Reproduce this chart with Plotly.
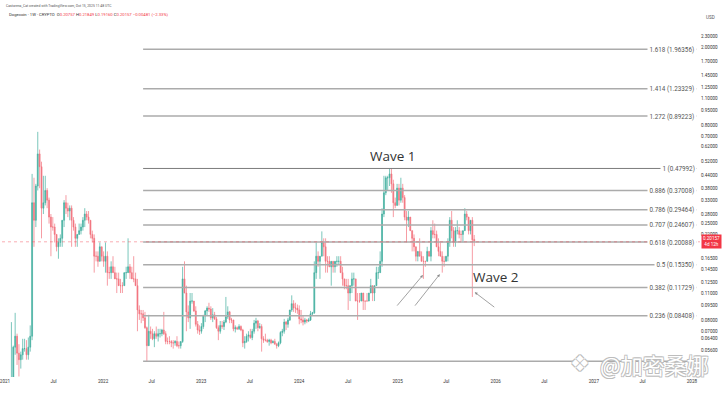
import math
import pandas as pd
import plotly.graph_objects as go

# ---------------- data (weekly DOGE candles) ----------------
opens = [
    .0047,
    # 2021
    .0098, .0094, .0091, .0085, .0347, .058, .066, .054, .050, .053, .057, .057, .053, .058, .066, .32,
    .26, .39, .57, .49, .30, .32, .37, .33, .27, .24, .24, .22, .19, .20, .21, .26, .32, .30, .29, .30,
    .26, .24, .21, .22, .23, .24, .26, .28, .27, .26, .22, .21, .17, .17, .16, .19,
    # 2022
    .17, .16, .17, .14, .14, .15, .14, .13, .13, .12, .12, .12, .14, .14, .15, .14, .13, .13, .12, .09,
    .086, .086, .082, .073, .059, .070, .068, .064, .068, .066, .068, .068, .071, .068, .062, .062, .062,
    .061, .061, .062, .059, .059, .062, .13, .11, .088, .082, .10, .10, .089, .076, .071,
    # 2023
    .070, .074, .084, .089, .092, .091, .082, .085, .081, .073, .070, .075, .074, .078, .083, .088, .080,
    .080, .072, .073, .072, .074, .071, .061, .062, .066, .067, .065, .070, .077, .079, .073, .074, .064,
    .063, .063, .062, .063, .061, .062, .060, .059, .061, .069, .070, .078, .076, .080, .090, .097, .092, .092,
    # 2024
    .090, .081, .080, .078, .080, .079, .080, .086, .087, .14, .17, .16, .17, .20, .19, .16, .16, .15, .16,
    .15, .16, .16, .16, .14, .13, .12, .12, .11, .12, .13, .13,
    .10, .10, .10, .11, .10, .10, .10, .11, .12, .11, .12, .14, .14, .16, .28, .36, .43, .43, .45, .40, .32, .31,
    # 2025
    .38, .33, .38, .34, .27, .26, .27, .23, .21, .19, .17, .18, .17, .16, .16, .16, .18, .17, .23, .22, .22,
    .19, .18, .17, .16, .16, .17, .20, .26, .23, .20, .23, .23, .22, .22, .23, .28, .27, .23, .26, .20757,
]
highs = [
    .0107,
    .0137, .0103, .0096, .078, .059, .087, .068, .060, .055, .064, .064, .063, .065, .075, .45, .43, .40,
    .74, .60, .52, .44, .44, .38, .34, .28, .27, .25, .22, .21, .22, .26, .33, .35, .32, .31, .31, .27, .25,
    .22, .25, .25, .27, .30, .29, .29, .26, .23, .22, .18, .18, .20, .19,
    .18, .20, .18, .15, .16, .17, .15, .14, .14, .13, .125, .14, .15, .21, .155, .15, .17, .14, .13, .095,
    .09, .09, .088, .074, .085, .074, .072, .070, .074, .072, .072, .072, .088, .070, .065, .066, .063, .063,
    .063, .066, .062, .062, .15, .16, .12, .095, .11, .11, .10, .094, .079, .075,
    .077, .085, .090, .094, .098, .094, .092, .088, .083, .075, .079, .079, .080, .105, .094, .089, .082,
    .080, .075, .074, .076, .075, .072, .066, .068, .070, .072, .072, .080, .082, .080, .077, .076, .066,
    .068, .064, .064, .064, .063, .064, .061, .062, .070, .072, .081, .079, .082, .090, .107, .101, .098, .096,
    .095, .090, .084, .082, .081, .082, .089, .088, .16, .20, .18, .17, .228, .21, .21, .17, .17, .16, .16,
    .16, .17, .17, .17, .15, .13, .13, .13, .12, .14, .14, .13,
    .11, .11, .11, .11, .10, .11, .11, .13, .12, .12, .15, .15, .18, .30, .44, .44, .44, .48, .48, .42, .34, .40,
    .40, .43, .40, .35, .29, .29, .27, .23, .22, .19, .18, .21, .18, .17, .16, .19, .18, .24, .26, .25, .23,
    .21, .20, .18, .17, .17, .21, .27, .29, .24, .24, .26, .24, .23, .23, .30, .29, .27, .26, .27, .21849,
]
lows = [
    .0045,
    .0080, .0079, .0072, .0078, .026, .053, .047, .041, .045, .050, .055, .050, .050, .055, .063, .19, .24,
    .37, .38, .21, .28, .31, .30, .25, .17, .23, .20, .18, .165, .19, .19, .24, .28, .27, .26, .19, .23, .19,
    .19, .22, .22, .23, .24, .26, .25, .21, .20, .14, .16, .15, .16, .16,
    .15, .14, .12, .13, .13, .14, .13, .11, .12, .11, .11, .12, .13, .14, .13, .13, .125, .12, .07, .08,
    .077, .079, .072, .049, .059, .064, .063, .058, .064, .062, .065, .066, .067, .060, .060, .060, .058,
    .057, .059, .058, .057, .057, .061, .11, .07, .078, .072, .097, .088, .074, .068, .067,
    .068, .072, .078, .084, .088, .080, .078, .080, .072, .063, .068, .072, .071, .077, .081, .077, .077,
    .070, .069, .071, .071, .070, .058, .057, .061, .062, .064, .063, .068, .072, .070, .072, .055, .061,
    .062, .061, .059, .060, .061, .060, .057, .058, .060, .066, .068, .071, .073, .079, .088, .088, .087, .086,
    .076, .077, .075, .076, .077, .078, .079, .084, .086, .13, .15, .13, .17, .17, .14, .14, .15, .12, .14,
    .14, .15, .155, .14, .12, .115, .115, .09, .10, .11, .12, .10,
    .08, .098, .10, .09, .09, .10, .10, .11, .10, .10, .12, .13, .14, .15, .27, .35, .37, .39, .36, .27, .30, .31,
    .31, .32, .32, .26, .20, .24, .23, .18, .18, .16, .16, .17, .16, .13, .15, .16, .17, .16, .21, .21, .19,
    .17, .17, .14, .15, .16, .16, .19, .21, .19, .19, .22, .21, .20, .20, .23, .26, .22, .22, .105, .19160,
]
closes = [
    .0098,
    .0094, .0091, .0085, .0347, .058, .066, .054, .050, .053, .057, .057, .053, .058, .066, .32, .26, .39,
    .57, .49, .30, .32, .37, .33, .27, .24, .24, .22, .19, .20, .21, .26, .32, .30, .29, .30, .26, .24, .21,
    .22, .23, .24, .26, .28, .27, .26, .22, .21, .17, .17, .16, .19, .17,
    .16, .17, .14, .14, .15, .14, .13, .13, .12, .12, .12, .14, .14, .15, .14, .13, .13, .12, .09, .086,
    .086, .082, .073, .059, .070, .068, .064, .068, .066, .068, .068, .071, .068, .062, .062, .062, .061,
    .061, .062, .059, .059, .062, .13, .11, .088, .082, .10, .10, .089, .076, .071, .070,
    .074, .084, .089, .092, .091, .082, .085, .081, .073, .070, .075, .074, .078, .083, .088, .080, .080,
    .072, .073, .072, .074, .071, .061, .062, .066, .067, .065, .070, .077, .079, .073, .074, .064, .063,
    .063, .062, .063, .061, .062, .060, .059, .061, .069, .070, .078, .076, .080, .090, .097, .092, .092, .090,
    .081, .080, .078, .080, .079, .080, .086, .087, .14, .17, .16, .17, .20, .19, .16, .16, .15, .16, .15,
    .16, .16, .16, .14, .13, .12, .12, .11, .12, .13, .13, .10,
    .10, .10, .11, .10, .10, .10, .11, .12, .11, .12, .14, .14, .16, .28, .36, .43, .43, .45, .40, .32, .31, .38,
    .33, .38, .34, .27, .26, .27, .23, .21, .19, .17, .18, .17, .16, .16, .16, .18, .17, .23, .22, .22, .19,
    .18, .17, .16, .16, .17, .20, .26, .23, .20, .23, .23, .22, .22, .23, .28, .27, .23, .26, .2064, .20157,
]
first_week = "2020-12-28"

# Fibonacci retracement levels
fib_ratios = ["1.618", "1.414", "1.272", "1", "0.886", "0.786", "0.707", "0.618", "0.5", "0.382", "0.236"]
fib_prices = [1.96356, 1.23329, 0.89223, 0.47992, 0.37008, 0.29464, 0.24607, 0.20088, 0.15350, 0.11729, 0.08408]
fib_zero_price = 0.04911
fib_start = "2022-05-30"
fib_end = "2028-01-18"

last_price = 0.20157

# axis ticks
price_ticks = [2.30, 2.00, 1.70, 1.45, 1.25, 1.10, 0.95, 0.80, 0.70, 0.62, 0.52, 0.44, 0.38, 0.33,
               0.28, 0.25, 0.22, 0.165, 0.145, 0.125, 0.11, 0.095, 0.08, 0.07, 0.064, 0.056]
date_ticks = ["2021-01-01", "2021-07-01", "2022-01-01", "2022-07-01", "2023-01-01", "2023-07-01",
              "2024-01-01", "2024-07-01", "2025-01-01", "2025-07-01", "2026-01-01", "2026-07-01",
              "2027-01-01", "2027-07-01", "2028-01-01"]
date_tick_text = ["2021", "Jul", "2022", "Jul", "2023", "Jul", "2024", "Jul", "2025", "Jul",
                  "2026", "Jul", "2027", "Jul", "2028"]

assert len(opens) == len(highs) == len(lows) == len(closes), (len(opens), len(highs), len(lows), len(closes))

dates = pd.date_range(first_week, periods=len(closes), freq="7D")

UP = "#22a28f"
DOWN = "#f05a67"

fig = go.Figure()

# Fibonacci lines
for r, p in zip(fib_ratios, fib_prices):
    fig.add_trace(go.Scatter(
        x=[fib_start, fib_end], y=[p, p], mode="lines",
        line=dict(color="#7c7c7c" if r == "1" else "#ababab", width=1.0 if r == "1" else 1.5),
        hoverinfo="skip", showlegend=False))
fig.add_trace(go.Scatter(
    x=[fib_start, fib_end], y=[fib_zero_price, fib_zero_price], mode="lines",
    line=dict(color="#ababab", width=1.5), hoverinfo="skip", showlegend=False))

# last price dotted line
fig.add_trace(go.Scatter(
    x=["2020-12-21", "2028-01-31"], y=[last_price, last_price], mode="lines",
    line=dict(color="#f23645", width=0.8, dash="dot"), opacity=0.5,
    hoverinfo="skip", showlegend=False))

fig.add_trace(go.Candlestick(
    x=dates, open=opens, high=highs, low=lows, close=closes,
    increasing=dict(line=dict(color=UP, width=0.7), fillcolor=UP),
    decreasing=dict(line=dict(color=DOWN, width=0.7), fillcolor=DOWN),
    whiskerwidth=0, opacity=0.85, showlegend=False))

annotations = []
for r, p in zip(fib_ratios, fib_prices):
    annotations.append(dict(
        x=fib_end, y=math.log10(p), xref="x", yref="y", xanchor="right", yanchor="middle",
        text=f"{r} ({p:.5f})", showarrow=False, bgcolor="white", borderpad=1.5,
        font=dict(family="Roboto", size=6.3, color="#555555")))

# wave labels
annotations.append(dict(x="2024-12-14", y=math.log10(0.556), xref="x", yref="y", text="Wave 1",
                        showarrow=False, font=dict(family="Open Sans", size=13.5, color="#333333")))
annotations.append(dict(x="2026-01-01", y=math.log10(0.1328), xref="x", yref="y", text="Wave 2",
                        showarrow=False, font=dict(family="Open Sans", size=13.5, color="#333333")))

# arrows
arrow_style = dict(showarrow=True, arrowhead=2, arrowsize=0.7, arrowwidth=0.8, arrowcolor="#8a8a8a",
                   text="", xref="x", yref="y")
annotations.append(dict(x="2025-04-05", y=math.log10(0.136), ax=-27, ay=32, **arrow_style))
annotations.append(dict(x="2025-06-07", y=math.log10(0.1375), ax=-26, ay=33, **arrow_style))
annotations.append(dict(x="2025-10-15", y=math.log10(0.111), ax=21, ay=16, **arrow_style))

# price label on axis
annotations.append(dict(x=1, y=math.log10(last_price), xref="paper", yref="y", xanchor="left",
                        yanchor="middle", xshift=1, showarrow=False,
                        text=f"{last_price:.5f}<br>4d 12h", bgcolor="#f23645", borderpad=1,
                        font=dict(family="Roboto", size=4.6, color="white")))
annotations.append(dict(x=1, y=1 - 17 / 377, xref="paper", yref="paper", xanchor="left",
                        yanchor="middle", xshift=4, showarrow=False, text="USD",
                        font=dict(family="Roboto", size=4.6, color="#555555")))

# header
annotations.append(dict(x=0, y=1 - 6 / 377, xref="paper", yref="paper", xanchor="left", yanchor="middle",
                        xshift=2, showarrow=False,
                        text="Castorena_Cat created with TradingView.com, Oct 15, 2025 11:48 UTC",
                        font=dict(family="Roboto", size=3.4, color="#555555")))
red = "<span style='color:#f23645'>"
annotations.append(dict(x=0, y=1 - 15 / 377, xref="paper", yref="paper", xanchor="left", yanchor="middle",
                        xshift=5, showarrow=False,
                        text=("Dogecoin · 1W · CRYPTO  O" + red + "0.20757</span> H" + red + "0.21849</span> L"
                              + red + "0.19160</span> C" + red + "0.20157</span> " + red
                              + "−0.00481 (−2.33%)</span>"),
                        font=dict(family="Roboto", size=4.2, color="#333333")))

# watermark
wm_shadow = ("-0.7px -0.7px 0 #bdbdbd, 0.7px -0.7px 0 #bdbdbd, "
             "-0.7px 0.7px 0 #bdbdbd, 0.7px 0.7px 0 #bdbdbd")
annotations.append(dict(x=580 / 700, y=1 - 363 / 377, xref="paper", yref="paper", xanchor="center",
                        yanchor="middle", showarrow=False, text="❖",
                        font=dict(family="DejaVu Sans", size=22, color="white", shadow=wm_shadow)))
annotations.append(dict(x=598 / 700, y=1 - 364 / 377, xref="paper", yref="paper", xanchor="left",
                        yanchor="middle", showarrow=False, text="@加密桑娜",
                        font=dict(family="Noto Sans CJK SC", size=22, color="white", shadow=wm_shadow)))

fig.update_layout(
    width=725, height=393,
    margin=dict(l=0, r=25, t=0, b=16),
    paper_bgcolor="white", plot_bgcolor="white",
    showlegend=False,
    annotations=annotations,
    xaxis=dict(type="date", range=["2020-12-21", "2028-01-31"], tickvals=date_ticks, ticktext=date_tick_text,
               showgrid=False, zeroline=False, showline=False, ticks="", ticklabeloverflow="allow",
               tickfont=dict(family="Roboto", size=4.6, color="#333333"),
               rangeslider=dict(visible=False)),
    yaxis=dict(type="log", range=[-1.390, 0.5465], side="right", tickvals=price_ticks,
               ticktext=[f"{v:.5f}" for v in price_ticks], showgrid=False, zeroline=False,
               showline=False, ticks="", tickfont=dict(family="Roboto", size=4.6, color="#333333")),
)

fig.write_html("out.html", config={"displayModeBar": False},
               post_script="document.body.style.margin='0';document.body.style.overflow='hidden';")
